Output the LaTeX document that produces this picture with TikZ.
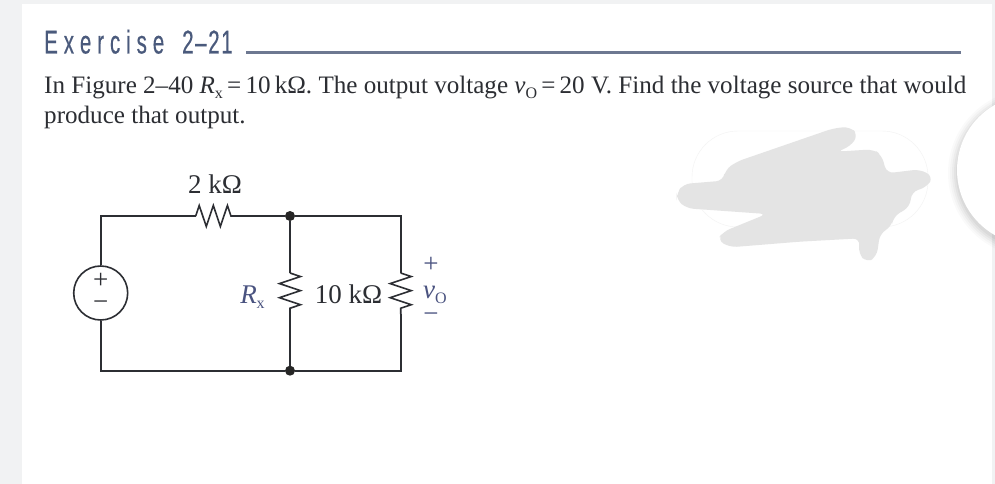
\documentclass[tikz,border=0pt]{standalone}
\usepackage{fontspec}
\setmainfont{Liberation Serif}
\newfontfamily\headfont[FakeStretch=0.62,LetterSpace=18,FakeBold=0.4]{Liberation Sans}
\newfontfamily\headnumfont[FakeStretch=0.62,LetterSpace=5,FakeBold=0.4]{Liberation Sans}
\usetikzlibrary{decorations.pathmorphing}
\definecolor{pagegray}{HTML}{F1F2F3}
\definecolor{inkgray}{HTML}{2C2E33}
\definecolor{headblue}{HTML}{4A5A7C}
\definecolor{rulegray}{HTML}{6D7891}
\definecolor{inkblue}{HTML}{4A5380}
\definecolor{blobgray}{HTML}{E4E4E4}
\newcommand{\lowtxt}[1]{\raisebox{-.2em}{\fontsize{16}{16}\selectfont #1}}
\tikzset{
    wire/.style={draw=inkgray, line width=1.6pt},
    resistor/.style={wire, decorate, decoration={zigzag, segment length=14.1pt, amplitude=10.5pt}},
    dot/.style={circle, fill=black!85, inner sep=0pt, minimum size=10pt},
    body/.style={anchor=base west, inner sep=0pt, text=inkgray, font=\fontsize{25.1}{30}\selectfont},
    label/.style={anchor=base, inner sep=0pt, text=inkgray, font=\fontsize{27}{30}\selectfont},
    sign/.style={inner sep=0pt, font=\fontsize{27}{27}\selectfont},
}
\begin{document}
\begin{tikzpicture}[x=1pt, y=-1pt]
    \useasboundingbox (0,0) rectangle (995,484);
    % 背景
    \fill[pagegray] (0,0) rectangle (995,484);
    \fill[white] (22,4) rectangle (992,484);

    % 右の円
    \begin{scope}
        \clip (0,0) rectangle (995,484);
        \foreach \r/\o in {84/.02, 82/.025, 80/.03, 78/.035, 76/.04} {
            \fill[black, opacity=\o] (1032,173) circle (\r);
        }
        \fill[white] (1032,170) circle (75);
    \end{scope}

    % 消し跡
    \draw[black!5, rounded corners=46pt] (692,131) rectangle (928,227);
    \begin{scope}[shift={(660,110)}, x=.3333pt, y=-.3333pt]
        \fill[blobgray, rounded corners=7pt] (50,250) -- (70,222) -- (190,212) -- (195,180) -- (230,155)
            -- (520,55) -- (570,50) -- (595,75) -- (570,110) -- (530,125) -- (640,118) -- (665,135)
            -- (680,190) -- (780,178) -- (820,200) -- (800,232) -- (755,245) -- (750,290) -- (700,320)
            -- (695,350) -- (660,370) -- (650,440) -- (620,458) -- (595,430) -- (600,385) -- (420,395)
            -- (210,412) -- (172,390) -- (190,365) -- (320,312) -- (80,295) -- (50,270) -- cycle;
    \end{scope}

    % 見出し
    \node[anchor=base west, inner sep=0pt, text=headblue, font=\headfont\fontsize{33}{33}\selectfont] (headA) at (44,53.5) {Exercise};
    \node[anchor=base west, inner sep=0pt, text=headblue, font=\headnumfont\fontsize{33}{33}\selectfont] (headB) at (182,53.5) {2–21};
    \draw[rulegray, line width=2.4pt] (246,52.5) -- (961,52.5);

    % 本文
    \node[body] (lineA) at (44,93.5) {In Figure 2–40 \textit{R}\lowtxt{x}\,=\,10\,kΩ. The output voltage \textit{v}\lowtxt{O}\,=\,20 V. Find the voltage source that would};
    \node[body] (lineB) at (44,123.5) {produce that output.};

    % ノード
    \node[circle, draw=inkgray, line width=1.6pt, minimum size=54pt, inner sep=0pt] (src) at (100.7,293) {};
    \node[dot] (top) at (290,216) {};
    \node[dot] (bot) at (290,370.7) {};
    \coordinate (r1w) at (195.7,216);
    \coordinate (r1e) at (238,216);
    \coordinate (r2n) at (290,273);
    \coordinate (r2s) at (290,314);
    \coordinate (r3n) at (400.7,273);
    \coordinate (r3s) at (400.7,314);

    % エッジ
    \draw[wire] (src) |- (r1w);
    \draw[wire] (src) |- (bot);
    \draw[wire] (r1e) -- (top);
    \draw[wire] (top) -- (r2n);
    \draw[wire] (r2s) -- (bot);
    \draw[wire] (top) -| (r3n);
    \draw[wire] (bot) -| (r3s);
    \path[resistor] (r1w) -- (r1e);
    \path[resistor] (r2n) -- (r2s);
    \path[resistor] (r3n) -- (r3s);

    % ラベル
    \node[label] (l2k) at (215,193) {2 kΩ};
    \node[label, text=inkblue] (lrx) at (252.5,303.5) {\textit{R}\lowtxt{x}};
    \node[label] (l10k) at (348.5,303) {10 kΩ};
    \node[label, text=inkblue] (lvo) at (435,298.5) {\textit{v}\lowtxt{O}};
    \node[sign, text=inkblue] (lplus) at (431,265) {+};
    \node[sign, text=inkblue] (lminus) at (431,318) {−};
    \node[sign, text=inkgray] (splus) at (100.7,281) {+};
    \node[sign, text=inkgray] (sminus) at (100.7,305.5) {−};
\end{tikzpicture}
\end{document}
